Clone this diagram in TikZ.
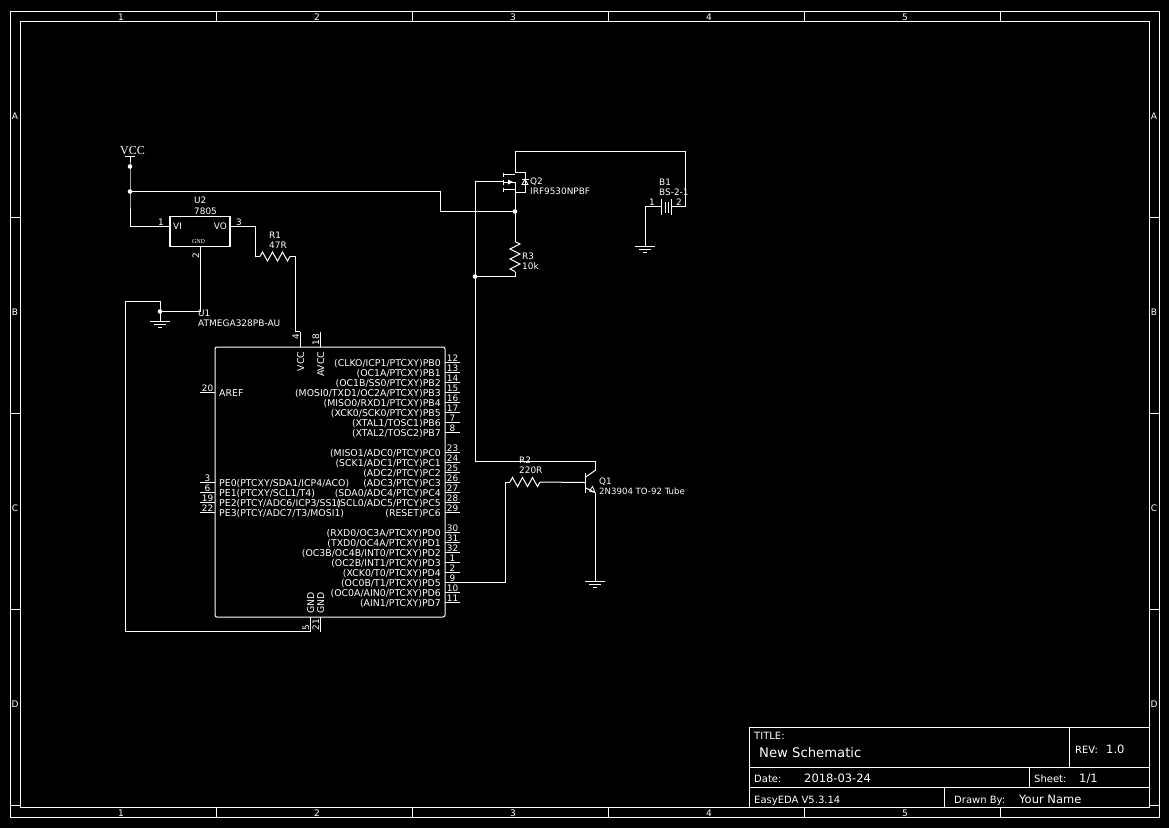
\documentclass[tikz,border=0pt]{standalone}
\usepackage{fontspec}
\setmainfont{DejaVu Sans}
\newfontfamily\vccfont{Liberation Serif}
\tikzset{
  wire/.style={white,line width=1pt},
  box/.style={draw=white,line width=1pt,inner sep=0pt,outer sep=0pt},
  lbl/.style={text=white,inner sep=0pt,font=\fontsize{8.9}{9}\selectfont},
  midw/.style={lbl,anchor=mid west,yshift=-.5pt},
  pinname/.style={lbl,font=\fontsize{9.35}{9}\selectfont,yshift=-1pt},
  pinnum/.style={lbl,anchor=base},
  pinrot/.style={lbl,rotate=90},
  titletxt/.style={text=white,inner sep=0pt,anchor=mid west,yshift=-1pt,font=\fontsize{10}{10}\selectfont},
  titleval/.style={text=white,inner sep=0pt,anchor=mid west,yshift=-1pt,font=\fontsize{11.5}{12}\selectfont},
  frametxt/.style={text=white,inner sep=0pt,font=\fontsize{9}{9}\selectfont},
  dot/.style={circle,fill=white,inner sep=0pt,minimum size=4.6pt},
  hres/.pic={
    \draw[wire] (-15,0) coordinate (-a) -- (-12.5,-4.5) -- (-7.5,4.5) -- (-2.5,-4.5) -- (2.5,4.5) -- (7.5,-4.5) -- (12.5,4.5) -- (15,0) coordinate (-b);
  },
  vres/.pic={
    \draw[wire] (0,-15) coordinate (-a) -- (5,-12.5) -- (-5,-7.5) -- (5,-2.5) -- (-5,2.5) -- (5,7.5) -- (-5,12.5) -- (0,15) coordinate (-b);
  },
  gndsym/.pic={
    \coordinate (-top) at (0,0);
    \draw[wire] (-10,0) -- (10,0);
    \draw[wire] (-6,3) -- (6,3);
    \draw[wire] (-2,6) -- (2,6);
  }
}
\begin{document}
\begin{tikzpicture}[x=1pt,y=-1pt]
  \fill[black] (0,0) rectangle (1169,828);
  \useasboundingbox (0,0) rectangle (1169,828);
  \begin{scope}[shift={(0,0.5)}]
    % sheet frame
    \node[box,minimum width=1149pt,minimum height=806pt] (frameo) at (584.5,414) {};
    \node[box,minimum width=1129pt,minimum height=786pt] (framei) at (584.5,414) {};
    \foreach \x in {216,412,608,804,1000} {
      \draw[wire] (\x,0 |- frameo.north) -- (\x,0 |- framei.north);
      \draw[wire] (\x,0 |- frameo.south) -- (\x,0 |- framei.south);
    }
    \foreach \y in {217,413,609,805} {
      \draw[wire] (frameo.west |- 0,\y) -- (framei.west |- 0,\y);
      \draw[wire] (frameo.east |- 0,\y) -- (framei.east |- 0,\y);
    }
    \foreach \x/\t in {121/1,317/2,513/3,709/4,905/5} {
      \node[frametxt] (top\t) at (\x,16.5) {\t};
      \node[frametxt] (bot\t) at (\x,812.5) {\t};
    }
    \foreach \y/\t in {116/A,312/B,508/C,704/D} {
      \node[frametxt] (lef\t) at (15,\y) {\t};
      \node[frametxt] (rig\t) at (1154,\y) {\t};
    }
    % title block
    \node[box,minimum width=400pt,minimum height=80pt] (titleb) at (949,767) {};
    \draw[wire] (titleb.west |- 0,767) -- (titleb.east |- 0,767);
    \draw[wire] (titleb.west |- 0,787) -- (titleb.east |- 0,787);
    \draw[wire] (1069,0 |- titleb.north) -- (1069,767);
    \draw[wire] (1029,767) -- (1029,787);
    \draw[wire] (944,787) -- (944,0 |- titleb.south);
    \node[titletxt] (ttitle) at (754,735) {TITLE:};
    \node[titleval,font=\fontsize{13.2}{13}\selectfont] (tname) at (759,753) {New Schematic};
    \node[titletxt] (trev) at (1075,749) {REV:};
    \node[titleval] (trevv) at (1106,749) {1.0};
    \node[titletxt] (tdate) at (754,778) {Date:};
    \node[titleval] (tdatev) at (804,778) {2018-03-24};
    \node[titletxt] (tsheet) at (1034,778) {Sheet:};
    \node[titleval] (tsheetv) at (1079,778) {1/1};
    \node[titletxt] (teda) at (754,799) {EasyEDA V5.3.14};
    \node[titletxt] (tby) at (954,799) {Drawn By:};
    \node[titleval] (tbyv) at (1019,799) {Your Name};
    % U1
    \node[box,rounded corners=2pt,minimum width=230pt,minimum height=270pt] (uone) at (330,481.5) {};
    \node[midw] (uonea) at (198,313) {U1};
    \node[midw,font=\fontsize{9}{9}\selectfont] (uoneb) at (198,323) {ATMEGA328PB-AU};
    \foreach \y/\num/\name in {362/12/{(CLKO/ICP1/PTCXY)PB0},372/13/{(OC1A/PTCXY)PB1},382/14/{(OC1B/SS0/PTCXY)PB2},392/15/{(MOSI0/TXD1/OC2A/PTCXY)PB3},402/16/{(MISO0/RXD1/PTCXY)PB4},412/17/{(XCK0/SCK0/PTCXY)PB5},422/7/{(XTAL1/TOSC1)PB6},432/8/{(XTAL2/TOSC2)PB7},452/23/{(MISO1/ADC0/PTCY)PC0},462/24/{(SCK1/ADC1/PTCY)PC1},472/25/{(ADC2/PTCY)PC2},482/26/{(ADC3/PTCY)PC3},492/27/{(SDA0/ADC4/PTCY)PC4},502/28/{(SCL0/ADC5/PTCY)PC5},512/29/{(RESET)PC6},532/30/{(RXD0/OC3A/PTCXY)PD0},542/31/{(TXD0/OC4A/PTCXY)PD1},552/32/{(OC3B/OC4B/INT0/PTCXY)PD2},562/1/{(OC2B/INT1/PTCXY)PD3},572/2/{(XCK0/T0/PTCXY)PD4},582/9/{(OC0B/T1/PTCXY)PD5},592/10/{(OC0A/AIN0/PTCXY)PD6},602/11/{(AIN1/PTCXY)PD7}} {
      \coordinate (pin\num) at (460,\y);
      \draw[wire] (pin\num) -- (pin\num -| uone.east);
      \node[pinname,anchor=mid east] (name\num) at (441,\y) {\name};
      \node[pinnum] (num\num) at (452.5,\y-1.5) {\num};
    }
    \foreach \y/\num/\name in {392/20/{AREF},482/3/{PE0(PTCXY/SDA1/ICP4/ACO)},492/6/{PE1(PTCXY/SCL1/T4)},502/19/{PE2(PTCY/ADC6/ICP3/SS1)},512/22/{PE3(PTCY/ADC7/T3/MOSI1)}} {
      \coordinate (pinl\num) at (200,\y);
      \draw[wire] (pinl\num) -- (pinl\num -| uone.west);
      \node[pinname,anchor=mid west] (namel\num) at (219,\y) {\name};
      \node[pinnum] (numl\num) at (207.5,\y-1.5) {\num};
    }
    % top and bottom pins of U1
    \coordinate (pinf) at (300,331);
    \coordinate (pine) at (320,331);
    \coordinate (pinfv) at (310,631);
    \coordinate (pintw) at (320,631);
    \draw[wire] (pinf) -- (pinf |- uone.north);
    \draw[wire] (pine) -- (pine |- uone.north);
    \draw[wire] (pinfv) -- (pinfv |- uone.south);
    \draw[wire] (pintw) -- (pintw |- uone.south);
    \node[pinrot,anchor=base east] (numf) at (299,333) {4};
    \node[pinrot,anchor=base east] (nume) at (319,333) {18};
    \node[pinrot,anchor=base west] (numfv) at (309,630) {5};
    \node[pinrot,anchor=base west] (numtw) at (319,630) {21};
    \node[pinrot,font=\fontsize{9.35}{9}\selectfont,anchor=mid east] (namef) at (301.5,351) {VCC};
    \node[pinrot,font=\fontsize{9.35}{9}\selectfont,anchor=mid east] (namee) at (321.5,351) {AVCC};
    \node[pinrot,font=\fontsize{9.35}{9}\selectfont,anchor=mid west] (namefv) at (311.5,613) {GND};
    \node[pinrot,font=\fontsize{9.35}{9}\selectfont,anchor=mid west] (nametw) at (321.5,613) {GND};
    % U2
    \node[box,line width=1.2pt,minimum width=60pt,minimum height=30pt] (utwo) at (200,231) {};
    \node[midw] (utwoa) at (194,200) {U2};
    \node[midw] (utwob) at (194,211) {7805};
    \node[midw] (utwovi) at (173,226) {VI};
    \node[lbl,anchor=mid east,yshift=-.5pt] (utwovo) at (227,226) {VO};
    \node[text=white,inner sep=0pt,font=\vccfont\fontsize{6}{6}\selectfont] (utwog) at (198.5,241) {GND};
    \node[pinnum] (utwoone) at (161,225) {1};
    \node[pinnum] (utwothree) at (239,225) {3};
    \node[pinrot,anchor=base east] (utwotwo) at (199,252.5) {2};
    % VCC
    \node[text=white,inner sep=0pt,font=\vccfont\fontsize{12}{12}\selectfont] (vcc) at (132.5,150.5) {VCC};
    \coordinate (vcctop) at (130,156);
    \draw[wire] (125,156) -- (135,156);
    \node[dot] (jvcc) at (130,166) {};
    \node[dot] (jin) at (130,191) {};
    \coordinate (uvi) at (170,226);
    \coordinate (uvo) at (230,226);
    \coordinate (ug) at (200,246);
    \draw[wire] (vcctop) -- (jvcc.center) -- (jin.center) |- (uvi);
    % R1
    \pic (rone) at (275,256) {hres};
    \node[midw] (ronea) at (269,235) {R1};
    \node[midw] (roneb) at (269,245) {47R};
    \draw[wire] (uvo) -| (255,256) -- (rone-a);
    \draw[wire] (rone-b) -- (295,256) |- (pinf);
    % ground by U1
    \node[dot] (jgnd) at (160,311) {};
    \pic (gndu) at (160,321) {gndsym};
    \draw[wire] (ug) |- (jgnd.center);
    \draw[wire] (gndu-top) |- (125,301) |- (pinfv);
    % Q2
    \coordinate (qgate) at (503,181);
    \node[dot] (jdrain) at (515,211) {};
    \node[dot] (jsense) at (475,276) {};
    \draw[wire] (503,172.5) -- (503,176);
    \draw[wire] (503,179) -- (503,184);
    \draw[wire] (503,187) -- (503,191);
    \draw[wire] (503,173.5) -- (515,173.5);
    \draw[wire] (503,181.5) -- (515,181.5) -- (515,189) -- (503,189);
    \draw[wire] (515,172) -| (525,191.5) -- (515,191.5);
    \fill[white] (513,181.5) -- (508,179) -- (508,184) -- cycle;
    \draw[wire] (521.5,178.5) -- (528.5,178.5);
    \draw[wire,line width=.8pt] (525,179) -- (522,184) -- (528,184) -- cycle;
    \node[midw] (qtwoa) at (530,181) {Q2};
    \node[midw] (qtwob) at (530,191) {IRF9530NPBF};
    \draw[wire] (jin.center) -- (440,191) |- (jdrain.center);
    \draw[wire] (515,189) -- (jdrain.center);
    % R3
    \pic (rthree) at (515,256) {vres};
    \node[midw] (rthreea) at (522,256) {R3};
    \node[midw] (rthreeb) at (522,266) {10k};
    \draw[wire] (jdrain.center) -- (rthree-a);
    \draw[wire] (rthree-b) |- (jsense.center);
    % B1
    \coordinate (bone) at (661,206);
    \coordinate (btwo) at (671,206);
    \node[midw] (bonea) at (659,182) {B1};
    \node[midw] (boneb) at (659,192) {BS-2-1};
    \node[pinnum] (bonenum) at (652,205) {1};
    \node[pinnum] (btwonum) at (679,205) {2};
    \draw[wire] (661,198.5) -- (661,214.5);
    \draw[wire] (665,201.5) -- (665,212.5);
    \draw[wire] (668,201.5) -- (668,212.5);
    \draw[wire] (671,198.5) -- (671,214.5);
    \pic (gndb) at (645,246) {gndsym};
    \draw[wire] (bone) -| (gndb-top);
    \draw[wire] (btwo) -| (685,151) -| (515,172);
    % Q1
    \coordinate (qbase) at (585,482);
    \coordinate (qcoll) at (595,470);
    \coordinate (qemit) at (595,492);
    \draw[wire] (585,472) -- (585,492);
    \draw[wire] (585,477) -- (qcoll);
    \draw[wire] (585,487) -- (qemit);
    \draw[wire,line width=.8pt] (595,492) -- (589.5,490.5) -- (592.5,486) -- cycle;
    \node[midw] (qonea) at (599,481) {Q1};
    \node[midw,font=\fontsize{8.6}{9}\selectfont] (qoneb) at (599,491) {2N3904 TO-92 Tube};
    \pic (gndq) at (595,581) {gndsym};
    \draw[wire] (qemit) -- (gndq-top);
    \draw[wire] (qcoll) |- (475,461) -- (jsense.center);
    \draw[wire] (jsense.center) |- (qgate);
    % R2
    \pic (rtwo) at (525,481.5) {hres};
    \node[midw] (rtwoa) at (519,460) {R2};
    \node[midw] (rtwob) at (519,470) {220R};
    \draw[wire] (pin9) -- (505,582) |- (rtwo-a);
    \draw[wire] (rtwo-b) -- (qbase);
  \end{scope}
\end{tikzpicture}
\end{document}
